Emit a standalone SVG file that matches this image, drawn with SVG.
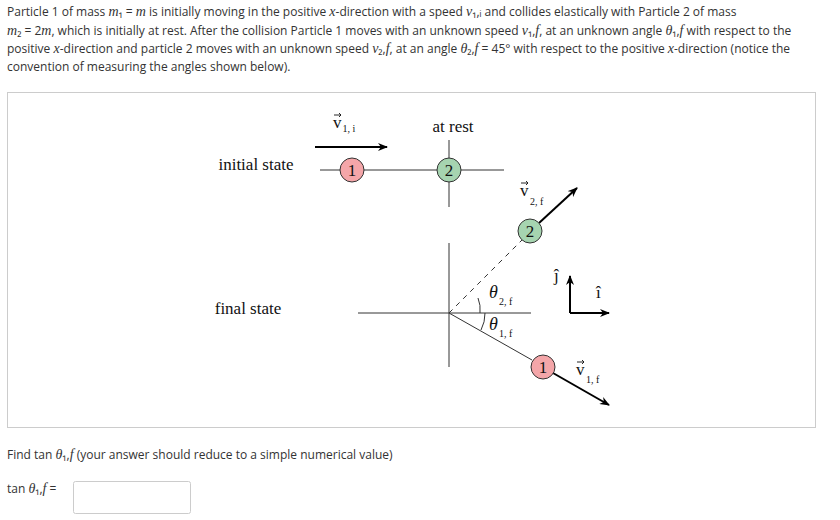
<svg xmlns="http://www.w3.org/2000/svg" width="840" height="520" viewBox="0 0 840 520">
<style>
.t{font-family:"Open Sans","Liberation Sans",sans-serif;font-size:12px;fill:#333}
.m{font-family:"Liberation Serif",serif;font-style:italic;font-size:14px}
.s{font-family:"Liberation Serif",serif;font-size:17px;fill:#111}
.sub{font-family:"Liberation Serif",serif;font-size:10px;fill:#111}
.ln{stroke:#333;stroke-width:1;fill:none}
.vec{stroke:#111;stroke-width:0.9;fill:none}
.ar{stroke:#000;stroke-width:2;fill:none;marker-end:url(#ah)}
.c1{fill:#f4a6a9;stroke:#333}
.c2{fill:#a6d4b0;stroke:#333}
</style>
<defs><marker id="ah" markerWidth="10" markerHeight="8" refX="9" refY="4" orient="auto" markerUnits="userSpaceOnUse"><path d="M0,0 L10,4 L0,8 L3,4Z" fill="#000"/></marker></defs>
<rect width="840" height="520" fill="#fff"/>
<text class="t" x="7" y="16">Particle 1 of mass <tspan class="m">m</tspan>₁ = <tspan class="m">m</tspan> is initially moving in the positive <tspan class="m">x</tspan>-direction with a speed <tspan class="m">v</tspan>₁,ᵢ and collides elastically with Particle 2 of mass</text>
<text class="t" x="7" y="35"><tspan class="m">m</tspan>₂ = 2<tspan class="m">m</tspan>, which is initially at rest. After the collision Particle 1 moves with an unknown speed <tspan class="m">v</tspan>₁,<tspan class="m">f</tspan>, at an unknown angle <tspan class="m">θ</tspan>₁,<tspan class="m">f</tspan> with respect to the</text>
<text class="t" x="7" y="53">positive <tspan class="m">x</tspan>-direction and particle 2 moves with an unknown speed <tspan class="m">v</tspan>₂,<tspan class="m">f</tspan>, at an angle <tspan class="m">θ</tspan>₂,<tspan class="m">f</tspan> = 45° with respect to the positive <tspan class="m">x</tspan>-direction (notice the</text>
<text class="t" x="7" y="71">convention of measuring the angles shown below).</text>
<rect x="7.5" y="92.5" width="808" height="335" fill="none" stroke="#ccc"/>
<text class="s" x="256" y="170" text-anchor="middle">initial state</text>
<text class="s" x="248" y="314" text-anchor="middle">final state</text>
<g id="connectors">
<line class="ln" x1="320" y1="170" x2="504" y2="170"/>
<line class="ln" x1="449" y1="140" x2="449" y2="207"/>
<line class="ar" x1="315" y1="147" x2="387" y2="147"/>
<line class="ln" x1="358" y1="313" x2="531" y2="313"/>
<line class="ln" x1="449" y1="243" x2="449" y2="367"/>
<line class="ln" x1="449" y1="313" x2="532" y2="360" stroke-width="0.8"/>
<line class="ln" x1="449" y1="313" x2="522" y2="240" stroke-dasharray="5,5" stroke-width="0.8"/>
<line class="ar" x1="539" y1="223" x2="577" y2="188"/>
<line class="ar" x1="553" y1="373" x2="609" y2="405"/>
<path class="ln" d="M478,298 A31,31 0 0 1 480,313" stroke="#666"/>
<path class="ln" d="M485,313 A36,36 0 0 1 481,330" stroke="#666"/>
<line class="ar" x1="570" y1="313" x2="570" y2="276"/>
<line class="ar" x1="570" y1="313" x2="609" y2="313"/>
</g>
<g id="p1i"><circle class="c1" cx="352" cy="170" r="12"/><text class="s" x="352" y="176" text-anchor="middle">1</text></g>
<g id="p2i"><circle class="c2" cx="449" cy="170" r="12"/><text class="s" x="449" y="176" text-anchor="middle">2</text></g>
<g id="p2f"><circle class="c2" cx="530" cy="231" r="12"/><text class="s" x="530" y="237" text-anchor="middle">2</text></g>
<g id="p1f"><circle class="c1" cx="543" cy="367" r="12"/><text class="s" x="543" y="373" text-anchor="middle">1</text></g>
<text class="s" x="333" y="128">v</text><path class="vec" d="M334,115 H341 M339,113 L341,115 L339,117"/><text class="sub" x="342.5" y="132">1, i</text>
<text class="s" x="453" y="132" text-anchor="middle">at rest</text>
<text class="s" x="520" y="196">v</text><path class="vec" d="M521,183 H528 M526,181 L528,183 L526,185"/><text class="sub" x="530" y="205">2, f</text>
<text class="s" x="576" y="375">v</text><path class="vec" d="M577,362 H584 M582,360 L584,362 L582,364"/><text class="sub" x="586" y="383">1, f</text>
<text class="s m" x="489" y="298" style="font-size:18px">θ</text><text class="sub" x="499" y="305">2, f</text>
<text class="s m" x="489" y="330" style="font-size:18px">θ</text><text class="sub" x="499" y="337">1, f</text>
<text class="s" x="554" y="281">ĵ</text>
<text class="s" x="596" y="298">î</text>
<text class="t" x="7" y="459">Find tan <tspan class="m">θ</tspan>₁,<tspan class="m">f</tspan> (your answer should reduce to a simple numerical value)</text>
<text class="t" x="7" y="493">tan <tspan class="m">θ</tspan>₁,<tspan class="m">f</tspan> =</text>
<rect x="73.5" y="481.5" width="117" height="32" fill="#fff" stroke="#ccc" rx="2"/>
</svg>
